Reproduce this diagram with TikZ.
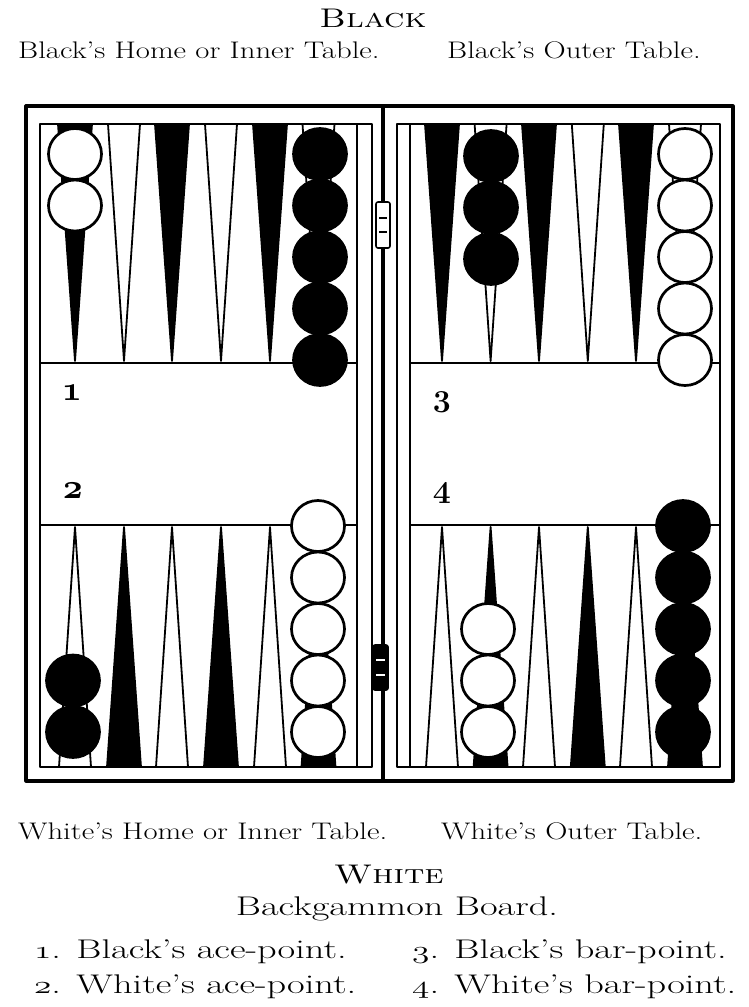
\documentclass[tikz,border=0pt]{standalone}
\usepackage{amsmath}
\usepackage{xcolor}
\usepackage{tikz}
\usetikzlibrary{calc}

\newcommand{\tabletext}[1]{\scalebox{1.28}[1]{#1}}
\newcommand{\widetext}[1]{\scalebox{1.42}[1]{#1}}
\newcommand{\osf}[1]{{\usefont{OML}{cmm}{m}{it}#1}}
\newcommand{\osfbold}[1]{\scalebox{1.4}{\usefont{OML}{cmm}{b}{it}#1}}

\begin{document}
\begin{tikzpicture}[x=1pt, y=-1pt, line join=round, frame/.style={line width=3.2pt}, edge/.style={line width=2.5pt}, point/.style={line width=1.8pt}, man/.style={line width=2.7pt}, whiteman/.style={man, fill=white}, blackman/.style={man, fill=black}, tablelabel/.style={inner sep=0pt, anchor=base west, font=\fontsize{24}{28}\selectfont}, legend/.style={inner sep=0pt, anchor=base west, font=\fontsize{27}{32}\selectfont}, barlabel/.style={inner sep=0pt, anchor=base, font=\fontsize{32}{36}\selectfont\bfseries}]
	\useasboundingbox (0,0) rectangle (748,1007);
	\foreach \x in {75,172,270,442,539,636}{
		\filldraw[point] (\x-17,124) -- (\x,361) -- (\x+17,124) -- cycle;
		\draw[point] (\x-16,767) -- (\x,527) -- (\x+16,767);
	}
	\foreach \x in {124,221,318.5,490.6,587.8,685}{
		\draw[point] (\x-16,124) -- (\x,361) -- (\x+16,124);
		\filldraw[point] (\x-17,767) -- (\x,527) -- (\x+17,767) -- cycle;
	}
	\draw[frame] (26,106) rectangle (733,781);
	\draw[frame] (383,106) -- (383,781);
	\draw[edge] (40,124) rectangle (372,767);
	\draw[edge] (397,124) rectangle (720,767);
	\draw[edge] (357,124) -- (357,767) (40,363) -- (357,363) (40,525) -- (357,525);
	\draw[edge] (410,124) -- (410,767) (410,363) -- (720,363) (410,525) -- (720,525);
	\foreach \k in {0,...,4}{
		\draw[blackman] (320,154+51.5*\k) circle[x radius=26.5, y radius=25.5];
		\draw[whiteman] (685,154+51.5*\k) circle[x radius=26.5, y radius=25.5];
		\draw[whiteman] (318,732-51.5*\k) circle[x radius=26.5, y radius=25.5];
		\draw[blackman] (683,732-51.5*\k) circle[x radius=26.5, y radius=25.5];
	}
	\foreach \k in {0,1,2}{
		\draw[blackman] (491,156+51.5*\k) circle[x radius=26.5, y radius=25.5];
		\draw[whiteman] (488,732-51.5*\k) circle[x radius=26.5, y radius=25.5];
	}
	\foreach \k in {0,1}{
		\draw[whiteman] (75,154+51.5*\k) circle[x radius=26.5, y radius=25.5];
		\draw[blackman] (73,732-51.5*\k) circle[x radius=26.5, y radius=25.5];
	}
	\draw[line width=1.6pt, fill=white, rounded corners=2pt] (376,202) rectangle (390,248);
	\draw[line width=1.6pt] (379,218) -- (387,218) (379,232) -- (387,232);
	\draw[line width=1.6pt, fill=black, rounded corners=2pt] (373,645) rectangle (388,690);
	\draw[white, line width=1.2pt] (376,660) -- (385,660) (376,675) -- (385,675);
	\node[legend, anchor=base] (blackside) at (373,27) {\tabletext{\textsc{Black}}};
	\node[tablelabel] (blackinner) at (18,58) {\tabletext{Black's Home or Inner Table.}};
	\node[tablelabel] (blackouter) at (447,58) {\tabletext{Black's Outer Table.}};
	\node[barlabel] (blackace) at (72,400) {\osfbold{1}};
	\node[barlabel] (whiteace) at (73,498) {\osfbold{2}};
	\node[barlabel] (blackbar) at (442,412) {3};
	\node[barlabel] (whitebar) at (442,503) {4};
	\node[tablelabel] (whiteinner) at (18,839) {\tabletext{White's Home or Inner Table.}};
	\node[tablelabel] (whiteouter) at (441,839) {\tabletext{White's Outer Table.}};
	\node[legend, anchor=base] (whiteside) at (389,883) {\tabletext{\textsc{White}}};
	\node[legend, anchor=base] (title) at (397,915) {\widetext{Backgammon Board.}};
	\node[legend] (key1) at (34,958) {\widetext{\osf{1}. Black's ace-point.}};
	\node[legend] (key3) at (412,958) {\widetext{\osf{3}. Black's bar-point.}};
	\node[legend] (key2) at (34,993) {\widetext{\osf{2}. White's ace-point.}};
	\node[legend] (key4) at (412,993) {\widetext{\osf{4}. White's bar-point.}};
\end{tikzpicture}
\end{document}
